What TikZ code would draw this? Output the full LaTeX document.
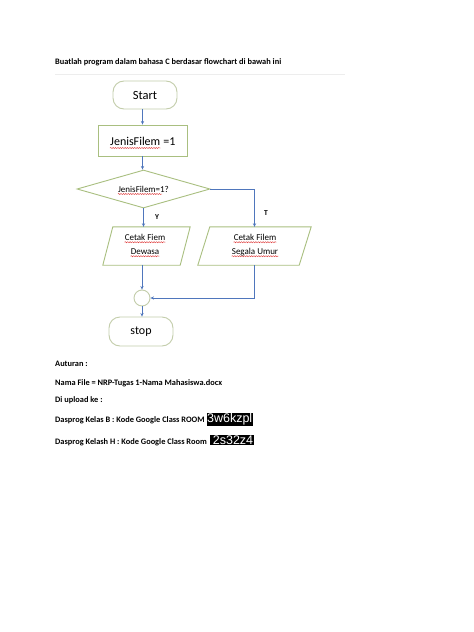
\documentclass[tikz,border=0pt]{standalone}
\usepackage{fontspec}
\setmainfont{Carlito}
\newfontfamily\arialf{Liberation Sans}
\usetikzlibrary{arrows.meta,shapes.geometric,decorations.pathmorphing}
\definecolor{gborder}{HTML}{A9BF80}
\definecolor{tborder}{HTML}{C3CDAA}
\definecolor{flow}{HTML}{4F76BC}
\definecolor{squig}{HTML}{E04040}
\begin{document}
\begin{tikzpicture}[x=1pt,y=-1pt,
  term/.style={draw=tborder,line width=0.9pt,rounded corners=11pt,minimum width=64pt,inner sep=0pt,font=\fontsize{12.5}{14}\selectfont},
  procbox/.style={draw=gborder,line width=0.9pt,minimum width=89pt,minimum height=31pt,inner sep=0pt},
  dec/.style={draw=gborder,line width=0.9pt,diamond,aspect=3.5,minimum width=133pt,minimum height=38pt,inner sep=0pt,font=\fontsize{9}{10}\selectfont},
  iobox/.style={minimum height=38pt,inner sep=0pt},
  iotext/.style={inner sep=0pt,font=\fontsize{9}{10}\selectfont},
  para/.style={draw=gborder,line width=0.9pt},
  flowline/.style={draw=flow,line width=0.7pt},
  flowarrow/.style={flowline,-{Stealth[length=3.5pt,width=3.2pt]}},
  wavy/.style={draw=squig,line width=0.45pt,decorate,decoration={snake,amplitude=0.55pt,segment length=2.4pt}},
  bodytext/.style={anchor=base west,inner sep=0pt,font=\bfseries\fontsize{8.35}{9}\selectfont},
  codebox/.style={fill=black,text=white,inner sep=0.6pt,anchor=base west,font=\arialf\fontsize{12.5}{13}\selectfont},
  lbl/.style={inner sep=0pt,font=\bfseries\fontsize{7.5}{8}\selectfont}
]
\useasboundingbox (0,0) rectangle (474,632);
\fill[white] (0,0) rectangle (474,632);

% heading
\node[bodytext] (title) at (55,64.5) {Buatlah program dalam bahasa C berdasar flowchart di bawah ini};
\coordinate (sepL) at (55,74);
\coordinate (sepR) at (345,74);
\draw[draw=black!7,line width=0.6pt] (sepL) -- (sepR);

% flowchart
\node[term,minimum height=28pt] (start) at (145,95) {Start};

\node[procbox] (init) at (142.5,140.5) {};
\node[inner sep=0pt,anchor=base west,font=\fontsize{12}{14}\selectfont] (initA) at (110,145) {JenisFilem};
\node[inner sep=0pt,anchor=base west,font=\fontsize{12}{14}\selectfont] (initB) at (initA.base east) {\ =1};
\draw[wavy] ([yshift=-3pt]initA.base west) -- ([yshift=-3pt]initA.base east);

\node[dec] (cond) at (143.5,189) {};
\node[iotext,anchor=base] (condT) at (143.5,192) {JenisFilem=1?};
\draw[wavy] ([yshift=-2pt]condT.base west) -- ([yshift=-2pt,xshift=-7pt]condT.base east);

\node[iobox,minimum width=77pt] (p1) at (146.5,246) {};
\draw[para] ([xshift=5pt]p1.north west) -- ([xshift=5pt]p1.north east) -- ([xshift=-5pt]p1.south east) -- ([xshift=-5pt]p1.south west) -- cycle;
\node[iotext,anchor=base] (p1a) at (145,240) {Cetak Fiem};
\node[iotext,anchor=base] (p1b) at (145,254) {Dewasa};
\draw[wavy] ([yshift=-2.2pt]p1a.base west) -- ([yshift=-2.2pt]p1a.base east);
\draw[wavy] ([yshift=-2.2pt]p1b.base west) -- ([yshift=-2.2pt]p1b.base east);

\node[iobox,minimum width=101pt] (p2) at (254.5,246) {};
\draw[para] ([xshift=6pt]p2.north west) -- ([xshift=6pt]p2.north east) -- ([xshift=-6pt]p2.south east) -- ([xshift=-6pt]p2.south west) -- cycle;
\node[iotext,anchor=base] (p2a) at (255,240) {Cetak Filem};
\node[iotext,anchor=base] (p2b) at (255,254) {Segala Umur};
\draw[wavy] ([yshift=-2.2pt]p2a.base west) -- ([yshift=-2.2pt]p2a.base east);
\draw[wavy] ([yshift=-2.2pt]p2b.base west) -- ([yshift=-2.2pt]p2b.base east);

\node[draw=tborder,line width=0.9pt,circle,minimum size=16pt,inner sep=0pt] (join) at (142,298) {};

\node[term,minimum height=29pt,font=\fontsize{12}{14}\selectfont] (stop) at (141,331.5) {stop};

\node[lbl] (lblY) at (157,217) {Y};
\node[lbl] (lblT) at (266,213) {T};

% connectors
\draw[flowarrow] (start.south -| init.north) -- (init.north);
\draw[flowarrow] (init.south) -- (init.south |- cond.north);
\draw[flowarrow] (cond.south) -- (cond.south |- p1.north);
\draw[flowarrow] (cond.east) -| (p2.north);
\draw[flowarrow] (join.north |- p1.south) -- (join.north);
\draw[flowarrow] (p2.south) |- (join.east);
\draw[flowarrow] (join.south) -- (join.south |- stop.north);

% rules text
\node[bodytext] (rules) at (55,366) {Auturan :};
\node[bodytext] (fname) at (55,385) {Nama File = NRP-Tugas 1-Nama Mahasiswa.docx};
\node[bodytext] (upl) at (55,402) {Di upload ke :};
\node[bodytext] (clsB) at (55,422.5) {Dasprog Kelas B : Kode Google Class ROOM};
\node[codebox] (codeB) at ([xshift=1.5pt]clsB.base east) {3w6kzpl};
\node[bodytext] (clsH) at (55,444.5) {Dasprog Kelash H : Kode Google Class Room};
\node[codebox,text depth=0pt] (codeH) at ([xshift=3pt]clsH.base east) {\,2s32z4};
\end{tikzpicture}
\end{document}
